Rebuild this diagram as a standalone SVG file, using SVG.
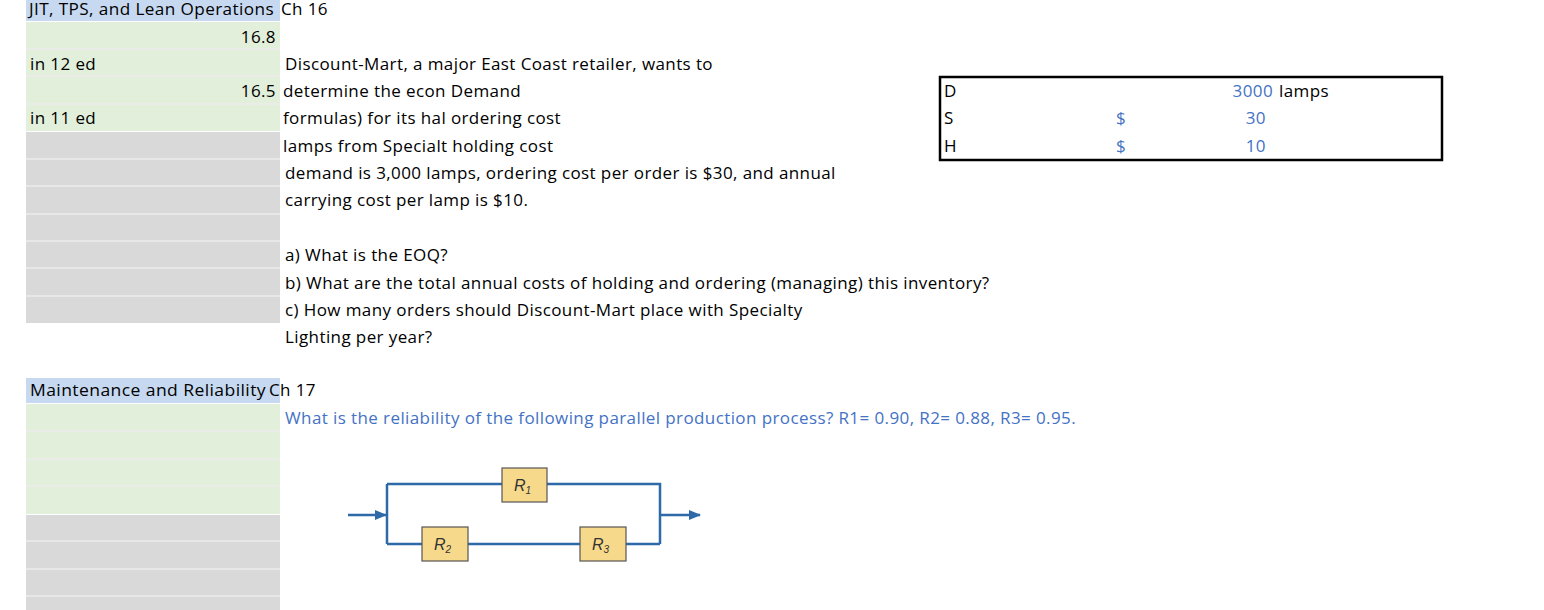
<svg xmlns="http://www.w3.org/2000/svg" width="1544" height="610" viewBox="0 0 1544 610">
<style>
text{font-family:"Open Sans","Liberation Sans",sans-serif;font-size:17px;letter-spacing:0.4px;fill:#000}
.b{fill:#4472c4}
.g{fill:#e2efda}.gr{fill:#d9d9d9}.h{fill:#c6d9f0}
.sep{stroke:#ececec;stroke-width:1.5}
.w{stroke:#2e6aa8;stroke-width:2.5;fill:none}
.box{fill:#f7d98b;stroke:#555;stroke-width:1.2}
text.r{font-family:"Liberation Sans",sans-serif;font-style:italic;font-size:16px;letter-spacing:0;fill:#333}
</style>
<defs><marker id="a" markerWidth="12" markerHeight="10" refX="11" refY="5" orient="auto" markerUnits="userSpaceOnUse"><path d="M0,0L12,5L0,10z" fill="#2e6aa8"/></marker></defs>
<rect width="1544" height="610" fill="#fff"/>
<g id="sheet1">
<rect class="h" x="26" y="0" width="254" height="21"/>
<rect class="g" x="26" y="22" width="254" height="109"/>
<rect class="gr" x="26" y="132" width="254" height="191"/>
<path class="sep" d="M26,49H280M26,76H280M26,104H280M26,159H280M26,186H280M26,214H280M26,241H280M26,268H280M26,296H280"/>
<text x="29" y="15" textLength="245" lengthAdjust="spacingAndGlyphs">JIT, TPS, and Lean Operations</text><text x="281" y="15">Ch 16</text>
<text x="276" y="43" text-anchor="end">16.8</text>
<text x="30" y="70">in 12 ed</text>
<text x="276" y="97" text-anchor="end">16.5</text>
<text x="30" y="124">in 11 ed</text>
<text x="285" y="70">Discount-Mart, a major East Coast retailer, wants to</text>
<text x="283" y="97">determine the econ Demand</text>
<text x="283" y="124">formulas) for its hal ordering cost</text>
<text x="283" y="152">lamps from Specialt holding cost</text>
<text x="285" y="179">demand is 3,000 lamps, ordering cost per order is $30, and annual</text>
<text x="285" y="206">carrying cost per lamp is $10.</text>
<text x="285" y="261">a) What is the EOQ?</text>
<text x="285" y="289">b) What are the total annual costs of holding and ordering (managing) this inventory?</text>
<text x="285" y="316">c) How many orders should Discount-Mart place with Specialty</text>
<text x="285" y="343">Lighting per year?</text>
</g>
<g id="table">
<rect x="940" y="77" width="502" height="83" fill="none" stroke="#000" stroke-width="2.5"/>
<text x="944" y="97" font-size="15">D</text><text x="944" y="124" font-size="15">S</text><text x="944" y="152" font-size="15">H</text>
<text class="b" x="1116" y="124">$</text><text class="b" x="1116" y="152">$</text>
<text class="b" x="1273" y="97" text-anchor="end">3000</text><text x="1279" y="97">lamps</text>
<text class="b" x="1266" y="124" text-anchor="end">30</text>
<text class="b" x="1266" y="152" text-anchor="end">10</text>
</g>
<g id="sheet2">
<rect class="h" x="26" y="378" width="254" height="25"/>
<rect class="g" x="26" y="404" width="254" height="110"/>
<rect class="gr" x="26" y="515" width="254" height="95"/>
<path class="sep" d="M26,431H280M26,459H280M26,486H280M26,541H280M26,569H280M26,596H280"/>
<text x="30" y="396" textLength="236" lengthAdjust="spacingAndGlyphs">Maintenance and Reliability</text><text x="269" y="396">Ch 17</text>
<text class="b" x="285" y="424">What is the reliability of the following parallel production process? R1= 0.90, R2= 0.88, R3= 0.95.</text>
</g>
<g id="connectors">
<path class="w" d="M348,515H386" marker-end="url(#a)"/>
<path class="w" d="M387,484V544M387,484H660V544M387,544H660"/>
<path class="w" d="M660,515H700" marker-end="url(#a)"/>
</g>
<g id="R1"><rect class="box" x="502" y="468" width="45" height="34"/><text class="r" x="514" y="491">R<tspan font-size="10" dy="3">1</tspan></text></g>
<g id="R2"><rect class="box" x="422" y="527" width="46" height="34"/><text class="r" x="434" y="550">R<tspan font-size="10" dy="3">2</tspan></text></g>
<g id="R3"><rect class="box" x="580" y="527" width="46" height="34"/><text class="r" x="592" y="550">R<tspan font-size="10" dy="3">3</tspan></text></g>
</svg>
